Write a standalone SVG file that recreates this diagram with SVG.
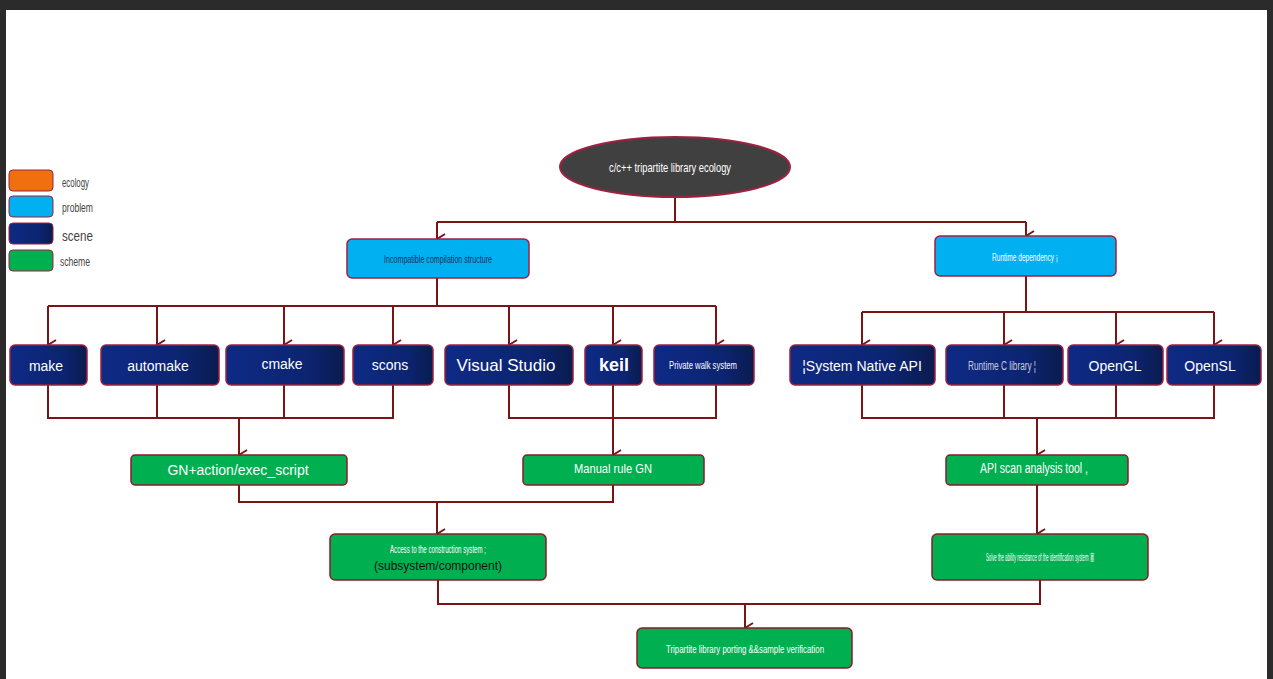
<svg xmlns="http://www.w3.org/2000/svg" width="1273" height="679" viewBox="0 0 1273 679">
<defs>
<linearGradient id="nav" x1="0" y1="0" x2="1" y2="0"><stop offset="0" stop-color="#0e2a85"/><stop offset="0.7" stop-color="#0c2470"/><stop offset="1" stop-color="#0a1b4e"/></linearGradient>
<marker id="ar" markerWidth="12" markerHeight="10" refX="6" refY="9" orient="auto-start-reverse" markerUnits="userSpaceOnUse" viewBox="0 0 12 10"><path d="M1,1 L6,9 L11,1" fill="none" stroke="#7a1515" stroke-width="2"/></marker>
<style>
.c{fill:none;stroke:#7a1515;stroke-width:2}
.a{marker-end:url(#ar)}
.nv{fill:url(#nav);stroke:#a02040;stroke-width:1.5}
.bl{fill:#00b0f0;stroke:#a02040;stroke-width:1.5}
.gr{fill:#00b050;stroke:#8b1a2a;stroke-width:1.5}
.t{font-family:"Liberation Sans",Arial,sans-serif;fill:#fff;text-anchor:middle}
.lg{font-family:"Liberation Sans",Arial,sans-serif;fill:#444}
</style>
</defs>
<rect width="1273" height="679" fill="#2b2b2b"/>
<rect x="6" y="10" width="1261" height="669" fill="#fff"/>
<g id="legend">
<rect x="9" y="170" width="44" height="21" rx="4" fill="#f07010" stroke="#a02040"/>
<rect x="9" y="196" width="44" height="21" rx="4" fill="#00b0f0" stroke="#a02040"/>
<rect x="9" y="223" width="44" height="21" rx="4" fill="url(#nav)" stroke="#a02040"/>
<rect x="9" y="250" width="44" height="21" rx="4" fill="#00b050" stroke="#a02040"/>
<text class="lg" x="62" y="187" font-size="12" textLength="27" lengthAdjust="spacingAndGlyphs">ecology</text>
<text class="lg" x="62" y="212" font-size="12" textLength="31" lengthAdjust="spacingAndGlyphs">problem</text>
<text class="lg" x="62" y="241" font-size="14" textLength="31" lengthAdjust="spacingAndGlyphs">scene</text>
<text class="lg" x="60" y="266" font-size="12" textLength="30" lengthAdjust="spacingAndGlyphs">scheme</text>
</g>
<g id="connectors">
<path class="c" d="M675,197 V222 H1026"/><path class="c" d="M675,222 H437"/>
<path class="c a" d="M437,222 V239"/><path class="c a" d="M1026,222 V236"/>
<path class="c" d="M437,278 V306 H48 M437,306 H716"/>
<path class="c a" d="M48,306 V345"/><path class="c a" d="M157,306 V345"/><path class="c a" d="M284,306 V345"/><path class="c a" d="M393,306 V345"/><path class="c a" d="M509,306 V345"/><path class="c a" d="M613,306 V345"/><path class="c a" d="M716,306 V345"/>
<path class="c" d="M1026,276 V312 H862 M1026,312 H1214"/>
<path class="c a" d="M862,312 V345"/><path class="c a" d="M1004,312 V345"/><path class="c a" d="M1116,312 V345"/><path class="c a" d="M1214,312 V345"/>
<path class="c" d="M48,385 V418 H393 V385 M157,385 V418 M284,385 V418"/>
<path class="c a" d="M239,418 V455"/>
<path class="c" d="M509,385 V418 H716 V385"/>
<path class="c a" d="M613,385 V455"/>
<path class="c" d="M862,385 V418 H1214 V385 M1004,385 V418 M1116,385 V418"/>
<path class="c a" d="M1037,418 V455"/>
<path class="c" d="M239,485 V502 H613 V485"/>
<path class="c a" d="M437,502 V534"/>
<path class="c a" d="M1037,485 V534"/>
<path class="c" d="M438,580 V604 H1040 V580"/>
<path class="c a" d="M745,604 V628"/>
</g>
<g id="root"><ellipse cx="675" cy="167" rx="115" ry="30" fill="#404040" stroke="#a02040" stroke-width="2"/><text class="t" x="670" y="172" font-size="13" textLength="122" lengthAdjust="spacingAndGlyphs">c/c++ tripartite library ecology</text></g>
<g id="incompat"><rect class="bl" x="347" y="239" width="182" height="39" rx="5"/><text class="t" x="438" y="263" font-size="11" fill="#1a2a50" style="fill:#1a3060" textLength="108" lengthAdjust="spacingAndGlyphs">Incompatible compilation structure</text></g>
<g id="runtime"><rect class="bl" x="935" y="236" width="181" height="40" rx="5"/><text class="t" x="1025" y="261" font-size="11" textLength="66" lengthAdjust="spacingAndGlyphs">Runtime dependency ¡</text></g>
<g id="make"><rect class="nv" x="10" y="345" width="77" height="40" rx="5"/><text class="t" x="46" y="371" font-size="14">make</text></g>
<g id="automake"><rect class="nv" x="101" y="345" width="118" height="40" rx="5"/><text class="t" x="158" y="371" font-size="14">automake</text></g>
<g id="cmake"><rect class="nv" x="226" y="345" width="118" height="40" rx="5"/><text class="t" x="282" y="369" font-size="14">cmake</text></g>
<g id="scons"><rect class="nv" x="353" y="345" width="80" height="40" rx="5"/><text class="t" x="390" y="370" font-size="14">scons</text></g>
<g id="vs"><rect class="nv" x="445" y="345" width="128" height="40" rx="5"/><text class="t" x="506" y="371" font-size="17">Visual Studio</text></g>
<g id="keil"><rect class="nv" x="585" y="345" width="57" height="40" rx="5"/><text class="t" x="614" y="371" font-size="18" font-weight="bold">keil</text></g>
<g id="private"><rect class="nv" x="654" y="345" width="100" height="40" rx="5"/><text class="t" x="703" y="369" font-size="11" textLength="68" lengthAdjust="spacingAndGlyphs">Private walk system</text></g>
<g id="sna"><rect class="nv" x="790" y="345" width="145" height="40" rx="5"/><text class="t" x="862" y="371" font-size="14">¦System Native API</text></g>
<g id="runc"><rect class="nv" x="946" y="345" width="117" height="40" rx="5"/><text class="t" x="1002" y="370" font-size="12" style="fill:#c8cce0" textLength="68" lengthAdjust="spacingAndGlyphs">Runtime C library ¦</text></g>
<g id="opengl"><rect class="nv" x="1068" y="345" width="95" height="40" rx="5"/><text class="t" x="1115" y="371" font-size="14">OpenGL</text></g>
<g id="opensl"><rect class="nv" x="1167" y="345" width="94" height="40" rx="5"/><text class="t" x="1210" y="371" font-size="14">OpenSL</text></g>
<g id="gnaction"><rect class="gr" x="131" y="455" width="216" height="30" rx="4"/><text class="t" x="238" y="475" font-size="14">GN+action/exec_script</text></g>
<g id="manual"><rect class="gr" x="523" y="455" width="181" height="30" rx="4"/><text class="t" x="613" y="473" font-size="13" textLength="78" lengthAdjust="spacingAndGlyphs">Manual rule GN</text></g>
<g id="apiscan"><rect class="gr" x="946" y="455" width="182" height="30" rx="4"/><text class="t" x="1034" y="473" font-size="14" textLength="108" lengthAdjust="spacingAndGlyphs">API scan analysis tool ,</text></g>
<g id="access"><rect class="gr" x="330" y="534" width="216" height="46" rx="5"/><text class="t" x="438" y="553" font-size="10" textLength="96" lengthAdjust="spacingAndGlyphs">Access to the construction system ;</text><text class="t" x="438" y="570" font-size="12" style="fill:#111">(subsystem/component)</text></g>
<g id="solve"><rect class="gr" x="932" y="534" width="216" height="46" rx="5"/><text class="t" x="1040" y="561" font-size="10" textLength="108" lengthAdjust="spacingAndGlyphs" font-family="Liberation Sans, Noto Sans CJK SC, sans-serif">Solve the ability resistance of the identification system 塞</text></g>
<g id="porting"><rect class="gr" x="637" y="628" width="215" height="40" rx="5"/><text class="t" x="745" y="653" font-size="11" textLength="158" lengthAdjust="spacingAndGlyphs">Tripartite library porting &amp;&amp;sample verification</text></g>
</svg>
